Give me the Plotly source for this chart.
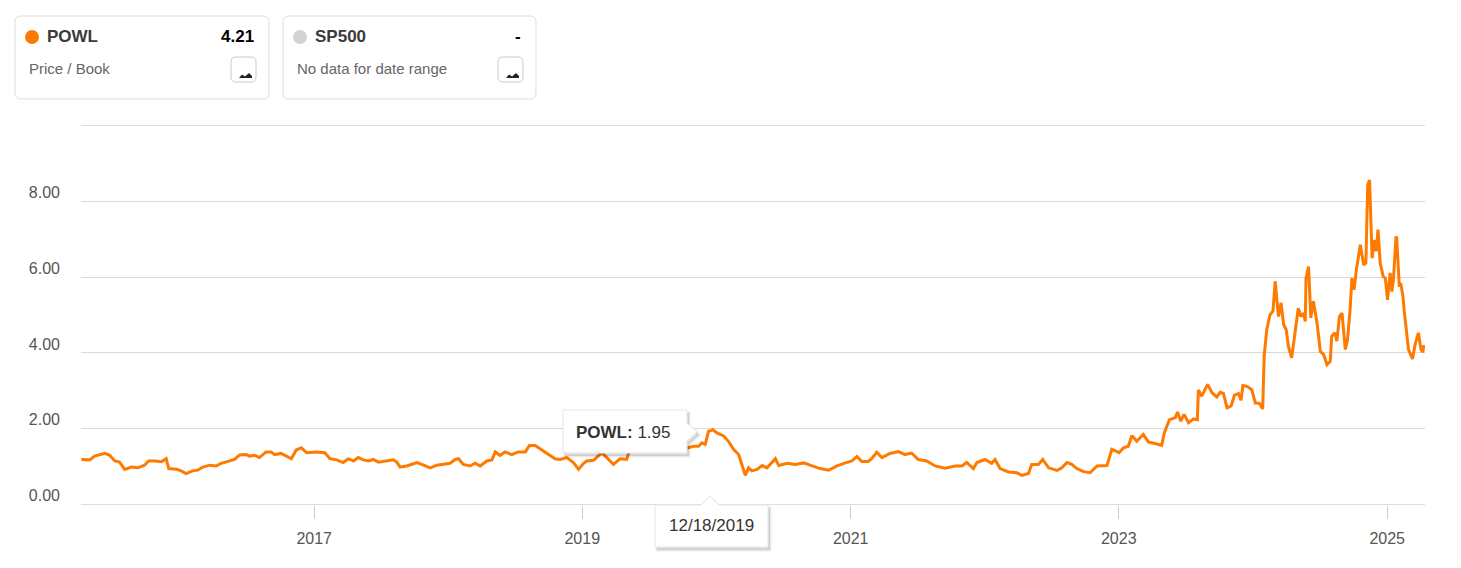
import plotly.graph_objects as go

# POWL price / book (date, value) per year
pb_2015 = [("2015-04-08", 1.19), ("2015-05-01", 1.18), ("2015-05-14", 1.28), ("2015-06-11", 1.35),
           ("2015-06-24", 1.30), ("2015-07-08", 1.15), ("2015-07-21", 1.12), ("2015-08-04", 0.93),
           ("2015-08-22", 0.99), ("2015-09-09", 0.97), ("2015-09-27", 1.04), ("2015-10-08", 1.15),
           ("2015-10-25", 1.15), ("2015-11-12", 1.13), ("2015-11-25", 1.21), ("2015-12-02", 0.95),
           ("2015-12-23", 0.93)]
pb_2016 = [("2016-01-05", 0.89), ("2016-01-18", 0.82), ("2016-02-05", 0.89), ("2016-02-19", 0.91),
           ("2016-03-04", 0.99), ("2016-03-22", 1.04), ("2016-04-09", 1.02), ("2016-04-23", 1.09),
           ("2016-05-11", 1.14), ("2016-05-29", 1.19), ("2016-06-12", 1.31), ("2016-06-30", 1.32),
           ("2016-07-09", 1.28), ("2016-07-23", 1.30), ("2016-08-05", 1.24), ("2016-08-23", 1.39),
           ("2016-09-06", 1.39), ("2016-09-15", 1.32), ("2016-10-03", 1.35), ("2016-10-17", 1.28),
           ("2016-10-31", 1.21), ("2016-11-13", 1.44), ("2016-11-27", 1.50), ("2016-12-11", 1.37)]
pb_2017 = [("2017-01-07", 1.39), ("2017-01-30", 1.37), ("2017-02-13", 1.21), ("2017-03-03", 1.18),
           ("2017-03-21", 1.11), ("2017-04-04", 1.21), ("2017-04-18", 1.15), ("2017-05-01", 1.24),
           ("2017-05-15", 1.18), ("2017-05-29", 1.15), ("2017-06-11", 1.19), ("2017-06-25", 1.12),
           ("2017-07-13", 1.15), ("2017-08-05", 1.18), ("2017-08-14", 1.12), ("2017-08-23", 0.99),
           ("2017-09-10", 1.02), ("2017-09-24", 1.06), ("2017-10-08", 1.11), ("2017-10-26", 1.04),
           ("2017-11-13", 0.97), ("2017-12-01", 1.04), ("2017-12-19", 1.06)]
pb_2018 = [("2018-01-06", 1.09), ("2018-01-20", 1.19), ("2018-01-29", 1.21), ("2018-02-11", 1.06),
           ("2018-03-02", 1.02), ("2018-03-15", 1.09), ("2018-03-29", 1.02), ("2018-04-16", 1.15),
           ("2018-04-30", 1.18), ("2018-05-09", 1.39), ("2018-05-22", 1.30), ("2018-06-05", 1.39),
           ("2018-06-23", 1.32), ("2018-07-11", 1.39), ("2018-07-30", 1.39), ("2018-08-10", 1.56),
           ("2018-08-26", 1.56), ("2018-09-13", 1.44), ("2018-10-06", 1.30), ("2018-10-19", 1.21),
           ("2018-11-02", 1.19), ("2018-11-20", 1.24), ("2018-12-08", 1.11), ("2018-12-22", 0.93)]
pb_2019 = [("2019-01-04", 1.08), ("2019-01-13", 1.15), ("2019-02-01", 1.17), ("2019-02-14", 1.28),
           ("2019-02-23", 1.37), ("2019-03-09", 1.24), ("2019-03-27", 1.06), ("2019-04-14", 1.21),
           ("2019-05-02", 1.19), ("2019-05-09", 1.41), ("2019-06-08", 1.50), ("2019-07-19", 1.55),
           ("2019-09-03", 1.48), ("2019-10-17", 1.50), ("2019-10-31", 1.54), ("2019-11-14", 1.54),
           ("2019-11-23", 1.63), ("2019-12-02", 1.59), ("2019-12-11", 1.94), ("2019-12-18", 1.95),
           ("2019-12-22", 1.98)]
pb_2020 = [("2020-01-03", 1.89), ("2020-01-21", 1.81), ("2020-02-03", 1.67), ("2020-02-17", 1.46),
           ("2020-03-02", 1.32), ("2020-03-11", 1.06), ("2020-03-20", 0.77), ("2020-03-29", 0.97),
           ("2020-04-07", 0.89), ("2020-04-21", 0.93), ("2020-05-05", 1.03), ("2020-05-18", 0.97),
           ("2020-06-01", 1.10), ("2020-06-10", 1.21), ("2020-06-19", 1.03), ("2020-07-12", 1.09),
           ("2020-08-03", 1.06), ("2020-08-26", 1.10), ("2020-09-18", 1.02), ("2020-10-10", 0.95),
           ("2020-11-02", 0.91), ("2020-11-25", 1.02), ("2020-12-18", 1.10)]
pb_2021 = [("2021-01-04", 1.15), ("2021-01-18", 1.27), ("2021-01-31", 1.14), ("2021-02-18", 1.14),
           ("2021-02-27", 1.21), ("2021-03-13", 1.38), ("2021-03-27", 1.24), ("2021-04-18", 1.35),
           ("2021-05-11", 1.40), ("2021-05-29", 1.32), ("2021-06-16", 1.36), ("2021-07-04", 1.19),
           ("2021-07-27", 1.15), ("2021-08-19", 1.02), ("2021-09-15", 0.96), ("2021-10-13", 1.02),
           ("2021-10-31", 1.02), ("2021-11-13", 1.11), ("2021-12-01", 0.95), ("2021-12-11", 1.11)]
pb_2022 = [("2022-01-02", 1.19), ("2022-01-20", 1.09), ("2022-01-29", 1.19), ("2022-02-12", 0.95),
           ("2022-03-07", 0.86), ("2022-03-29", 0.84), ("2022-04-12", 0.77), ("2022-04-30", 0.82),
           ("2022-05-09", 1.06), ("2022-05-27", 1.06), ("2022-06-08", 1.19), ("2022-06-24", 0.97),
           ("2022-07-17", 0.90), ("2022-07-30", 0.97), ("2022-08-13", 1.11), ("2022-08-26", 1.06),
           ("2022-09-09", 0.95), ("2022-09-27", 0.87), ("2022-10-15", 0.84), ("2022-11-03", 1.02),
           ("2022-11-30", 1.03), ("2022-12-13", 1.46)]
pb_2023 = [("2023-01-02", 1.37), ("2023-01-14", 1.50), ("2023-01-27", 1.54), ("2023-02-06", 1.82),
           ("2023-02-19", 1.67), ("2023-03-09", 1.85), ("2023-03-23", 1.65), ("2023-04-10", 1.61),
           ("2023-04-28", 1.56), ("2023-05-05", 1.89), ("2023-05-19", 2.24), ("2023-06-04", 2.29),
           ("2023-06-10", 2.44), ("2023-06-19", 2.20), ("2023-06-28", 2.38), ("2023-07-10", 2.16),
           ("2023-07-24", 2.26), ("2023-08-03", 2.24), ("2023-08-06", 3.02), ("2023-08-15", 2.86),
           ("2023-08-31", 3.17), ("2023-09-12", 2.95), ("2023-09-25", 2.84), ("2023-10-04", 2.96),
           ("2023-10-13", 2.93), ("2023-10-23", 2.55), ("2023-11-03", 2.60), ("2023-11-12", 2.88),
           ("2023-11-23", 2.93), ("2023-11-30", 2.75), ("2023-12-05", 3.14), ("2023-12-16", 3.12),
           ("2023-12-29", 3.03)]
pb_2024 = [("2024-01-08", 2.68), ("2024-01-19", 2.67), ("2024-01-28", 2.52), ("2024-02-01", 3.91),
           ("2024-02-08", 4.61), ("2024-02-17", 5.01), ("2024-02-25", 5.10), ("2024-03-02", 5.89),
           ("2024-03-11", 4.96), ("2024-03-18", 5.32), ("2024-03-25", 4.75), ("2024-04-01", 4.61),
           ("2024-04-07", 4.17), ("2024-04-16", 3.87), ("2024-04-25", 4.53), ("2024-05-04", 5.18),
           ("2024-05-11", 4.96), ("2024-05-18", 5.05), ("2024-05-23", 4.83), ("2024-05-25", 5.97),
           ("2024-06-01", 6.28), ("2024-06-07", 4.92), ("2024-06-14", 5.36), ("2024-06-24", 4.79),
           ("2024-07-03", 4.04), ("2024-07-12", 3.96), ("2024-07-21", 3.69), ("2024-07-30", 3.78),
           ("2024-08-03", 4.44), ("2024-08-12", 4.53), ("2024-08-17", 4.31), ("2024-08-24", 4.96),
           ("2024-08-31", 5.05), ("2024-09-09", 4.09), ("2024-09-15", 4.35), ("2024-09-22", 5.14),
           ("2024-09-27", 5.97), ("2024-10-03", 5.67), ("2024-10-09", 6.19), ("2024-10-20", 6.85),
           ("2024-10-29", 6.32), ("2024-11-04", 6.37), ("2024-11-09", 8.43), ("2024-11-14", 8.56),
           ("2024-11-21", 6.50), ("2024-11-27", 6.98), ("2024-12-02", 6.68), ("2024-12-07", 7.25),
           ("2024-12-13", 6.37), ("2024-12-21", 6.02), ("2024-12-27", 5.97)]
pb_2025 = [("2025-01-02", 5.40), ("2025-01-09", 6.11), ("2025-01-14", 5.62), ("2025-01-18", 5.93),
           ("2025-01-25", 7.07), ("2025-01-27", 7.03), ("2025-02-03", 5.75), ("2025-02-07", 5.84),
           ("2025-02-13", 5.49), ("2025-02-16", 5.14), ("2025-02-22", 4.61), ("2025-02-28", 4.09),
           ("2025-03-11", 3.84), ("2025-03-18", 4.22), ("2025-03-27", 4.53), ("2025-04-03", 4.09),
           ("2025-04-08", 4.02), ("2025-04-11", 4.21)]

y_ticks = [0, 2, 4, 6, 8, 10]
y_tick_text = ["0.00", "2.00", "4.00", "6.00", "8.00", ""]
x_ticks = ["2017-01-01", "2019-01-01", "2021-01-01", "2023-01-01", "2025-01-01"]
x_tick_text = ["2017", "2019", "2021", "2023", "2025"]

hover_date = "12/18/2019"
hover_value = "1.95"

ORANGE = "#ff7a00"
GRID = "#d9d9d9"
FONT = "Liberation Sans, Arial, sans-serif"

W, H = 1461, 568
L, R, T, B = 81, 36, 125, 63


def px(x):
    return (x - L) / (W - L - R)


def py(y):
    return (H - B - y) / (H - T - B)


def rounded(x0, y0, x1, y1, r):
    return (f"M {px(x0 + r)},{py(y0)} L {px(x1 - r)},{py(y0)} Q {px(x1)},{py(y0)} {px(x1)},{py(y0 + r)} "
            f"L {px(x1)},{py(y1 - r)} Q {px(x1)},{py(y1)} {px(x1 - r)},{py(y1)} "
            f"L {px(x0 + r)},{py(y1)} Q {px(x0)},{py(y1)} {px(x0)},{py(y1 - r)} "
            f"L {px(x0)},{py(y0 + r)} Q {px(x0)},{py(y0)} {px(x0 + r)},{py(y0)} Z")


def poly(points):
    return "M " + " L ".join(f"{px(x)},{py(y)}" for x, y in points) + " Z"


rows = pb_2015 + pb_2016 + pb_2017 + pb_2018 + pb_2019 + pb_2020 + pb_2021 + pb_2022 + pb_2023 + pb_2024 + pb_2025
dates = [d for d, v in rows]
values = [v for d, v in rows]

fig = go.Figure()
fig.add_trace(go.Scatter(x=dates, y=values, mode="lines", name="POWL",
                         line=dict(color=ORANGE, width=3), showlegend=False))

shapes = []
annotations = []

# edge gridlines (plotly drops the ones sitting on the plot border)
for v in (y_ticks[0], y_ticks[-1]):
    shapes.append(dict(type="line", xref="paper", yref="y", x0=0, x1=1, y0=v, y1=v,
                       line=dict(color=GRID, width=1), layer="below"))

# header cards
cards = [
    dict(x0=15, x1=269, dot="#ff7a00", name="POWL", value="4.21", sub="Price / Book"),
    dict(x0=283, x1=536, dot="#d3d3d3", name="SP500", value="-", sub="No data for date range"),
]
for c in cards:
    shapes.append(dict(type="path", xref="paper", yref="paper", path=rounded(c["x0"], 16, c["x1"], 99, 6),
                       line=dict(color="#dddddd", width=1), fillcolor="white"))
    shapes.append(dict(type="circle", xref="paper", yref="paper",
                       x0=px(c["x0"] + 10), x1=px(c["x0"] + 24), y0=py(44), y1=py(30),
                       line=dict(width=0), fillcolor=c["dot"]))
    bx = c["x1"] - 38
    shapes.append(dict(type="path", xref="paper", yref="paper", path=rounded(bx, 57, bx + 25, 82, 5),
                       line=dict(color="#cccccc", width=1), fillcolor="white"))
    shapes.append(dict(type="path", xref="paper", yref="paper",
                       path=poly([(bx + 8, 78), (bx + 11, 74.5), (bx + 14, 76.5), (bx + 18, 73),
                                  (bx + 21, 76), (bx + 21, 78)]),
                       line=dict(width=0), fillcolor="#222222"))
    annotations.append(dict(xref="paper", yref="paper", x=px(c["x0"] + 30), y=py(37), text="<b>" + c["name"] + "</b>",
                            xanchor="left", yanchor="middle", showarrow=False,
                            font=dict(size=17, color="#3a3a3a", family=FONT)))
    annotations.append(dict(xref="paper", yref="paper", x=px(c["x1"] - 13), y=py(37), text="<b>" + c["value"] + "</b>",
                            xanchor="right", yanchor="middle", showarrow=False,
                            font=dict(size=17, color="#000000", family=FONT)))
    annotations.append(dict(xref="paper", yref="paper", x=px(c["x0"] + 12), y=py(68), text=c["sub"],
                            xanchor="left", yanchor="middle", showarrow=False,
                            font=dict(size=15, color="#666666", family=FONT)))

# hover tooltip (value)
tip = [(563, 410), (687, 410), (687, 423), (697, 432), (687, 441), (687, 453), (563, 453)]
tip_shadow = [(x + 2, y + 3) for x, y in tip]
shapes.append(dict(type="path", xref="paper", yref="paper", path=poly(tip_shadow),
                   line=dict(color="rgba(0,0,0,0.08)", width=3), fillcolor="rgba(0,0,0,0.12)"))
shapes.append(dict(type="path", xref="paper", yref="paper", path=poly(tip),
                   line=dict(color="#e6e6e6", width=1), fillcolor="white"))
annotations.append(dict(xref="paper", yref="paper", x=px(574), y=py(432),
                        text="<b>POWL:</b> " + hover_value, xanchor="left", yanchor="middle", showarrow=False,
                        font=dict(size=17, color="#333333", family=FONT)))

# hover tooltip (date)
dtip = [(655, 505), (701, 505), (710, 496), (719, 505), (768, 505), (768, 547), (655, 547)]
dtip_shadow = [(x + 2, y + 3) for x, y in dtip]
shapes.append(dict(type="path", xref="paper", yref="paper", path=poly(dtip_shadow),
                   line=dict(color="rgba(0,0,0,0.08)", width=3), fillcolor="rgba(0,0,0,0.12)"))
shapes.append(dict(type="path", xref="paper", yref="paper", path=poly(dtip),
                   line=dict(color="#e6e6e6", width=1), fillcolor="white"))
annotations.append(dict(xref="paper", yref="paper", x=px(711.5), y=py(525), text=hover_date,
                        xanchor="center", yanchor="middle", showarrow=False,
                        font=dict(size=17, color="#333333", family=FONT)))

fig.update_layout(
    width=W, height=H,
    margin=dict(l=L, r=R, t=T, b=B, autoexpand=False),
    paper_bgcolor="white", plot_bgcolor="white",
    font=dict(family=FONT, size=16, color="#555555"),
    shapes=shapes, annotations=annotations,
    hovermode=False,
)
fig.update_xaxes(type="date", range=["2015-04-07", "2025-04-14"],
                 tickvals=x_ticks, ticktext=x_tick_text,
                 showgrid=False, zeroline=False, showline=False,
                 ticks="outside", ticklen=13, tickcolor="#cccccc", tickwidth=1,
                 ticklabelstandoff=6,
                 tickfont=dict(size=16, color="#555555"))
fig.update_yaxes(range=[-0.01, 10.01], tickvals=y_ticks, ticktext=y_tick_text,
                 showgrid=True, gridcolor=GRID, gridwidth=1,
                 zeroline=False, showline=False, ticks="",
                 ticklabelshift=-9, ticklabelstandoff=20,
                 tickfont=dict(size=16, color="#555555"))

fig.write_html("out.html", config={"displayModeBar": False},
               post_script="document.body.style.margin='0';")
